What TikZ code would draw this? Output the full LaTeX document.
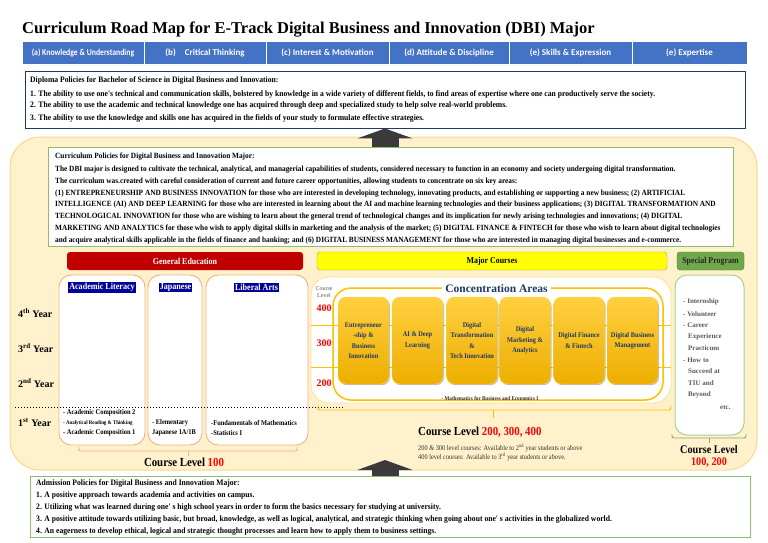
\documentclass[tikz,border=0pt]{standalone}
\usepackage{fontspec}
\usepackage{tikz}
\usetikzlibrary{arrows.meta, positioning, calc}
\setmainfont{Liberation Serif}
\newfontfamily\condfont[FakeStretch=0.88]{Liberation Serif}
\newfontfamily\polfont[FakeStretch=0.92]{Liberation Serif}
\newfontfamily\calibfont{Carlito}
\newfontfamily\calibcond[FakeStretch=0.86]{Carlito}
\definecolor{hdrblue}{HTML}{4472C4}
\definecolor{dipnavy}{HTML}{203864}
\definecolor{polgreen}{HTML}{8DBF6A}
\definecolor{basefill}{HTML}{FEF1CB}
\definecolor{baseedge}{HTML}{F8D88C}
\definecolor{genred}{HTML}{C00000}
\definecolor{majyellow}{HTML}{FFFF00}
\definecolor{majedge}{HTML}{A3A35A}
\definecolor{spgreen}{HTML}{70A84A}
\definecolor{spedge}{HTML}{4F7A33}
\definecolor{spbox}{HTML}{A9D18E}
\definecolor{colorange}{HTML}{F4B183}
\definecolor{labnavy}{HTML}{000099}
\definecolor{concgold}{HTML}{FFC000}
\definecolor{conctop}{HTML}{FFD040}
\definecolor{concbot}{HTML}{EDAE00}
\definecolor{concnavy}{HTML}{1F3864}
\definecolor{lvred}{HTML}{FF0000}
\definecolor{arrowgray}{HTML}{3A3A3A}
\definecolor{itemgray}{HTML}{595959}
\tikzset{
  polbox/.style={draw, fill=white, inner sep=0pt},
  polline/.style={anchor=west, inner sep=0pt, font=\polfont\bfseries\fontsize{8.3}{9}\selectfont},
  currline/.style={anchor=west, inner sep=0pt, font=\polfont\bfseries\fontsize{7.95}{9}\selectfont},
  hdrcell/.style={fill=hdrblue, draw=white, line width=0.8pt, text=white, font=\calibfont\bfseries\fontsize{9}{10}\selectfont, minimum height=23pt, inner sep=0pt},
  barbox/.style={rounded corners=3pt, minimum height=18pt, inner sep=0pt, font=\condfont\bfseries\fontsize{9}{10}\selectfont},
  colbox/.style={draw=colorange, fill=white, rounded corners=12pt, line width=0.9pt},
  collabel/.style={fill=labnavy, text=white, inner sep=1pt, font=\condfont\bfseries\fontsize{9.2}{10}\selectfont},
  yearlabel/.style={anchor=west, inner sep=0pt, font=\bfseries\fontsize{10}{11}\selectfont},
  itemtext/.style={anchor=west, inner sep=0pt, font=\condfont\bfseries\fontsize{7.3}{8}\selectfont},
  spitem/.style={anchor=west, inner sep=0pt, text=itemgray, font=\bfseries\fontsize{7}{8}\selectfont},
  concbox/.style={rounded corners=8pt, top color=conctop, bottom color=concbot, draw=concgold!70!white, minimum width=51pt, minimum height=87pt, inner sep=0pt, text=concnavy, align=center, font=\condfont\bfseries\fontsize{7.2}{10.4}\selectfont},
  concshade/.style={fill=black, opacity=0.25, rounded corners=8pt, minimum width=51pt, minimum height=87pt, inner sep=0pt},
  bigarrow/.style={draw=arrowgray, line width=27pt, -{Triangle[width=55pt, length=10pt]}, arrowgray},
  levelnum/.style={text=lvred, inner sep=0pt, font=\bfseries\fontsize{10}{11}\selectfont},
  lvtext/.style={inner sep=0pt, font=\condfont\bfseries\fontsize{12.3}{13}\selectfont},
  notetext/.style={anchor=west, inner sep=0pt, text=black!80, font=\condfont\fontsize{7.2}{8}\selectfont},
}
\begin{document}
\begin{tikzpicture}[x=1pt, y=-1pt]
\useasboundingbox (0,0) rectangle (768,543);
% Title and outcome bar
\node[anchor=west, inner sep=0pt, font=\bfseries\fontsize{16.5}{18}\selectfont] (title) at (22,30) {Curriculum Road Map for E-Track Digital Business and Innovation (DBI) Major};
\foreach \xa/\xb/\txt [count=\i] in {
  22/144/{\calibcond(a) Knowledge \& Understanding},
  144/266/{(b)\quad Critical Thinking},
  266/389/{(c) Interest \& Motivation},
  389/509/{(d) Attitude \& Discipline},
  509/632/{(e) Skills \& Expression},
  632/747/{(e) Expertise}
} {
  \node[hdrcell, minimum width=(\xb-\xa)*1pt] (cell\i) at ({(\xa+\xb)/2},52.5) {\txt};
}
% Background area
\node[draw=baseedge, fill=basefill, line width=1pt, rounded corners=30pt, minimum width=747pt, minimum height=333pt] (base) at (383.5,303.5) {};
% Diploma policies
\node[polbox, draw=dipnavy, line width=0.9pt, minimum width=720pt, minimum height=57pt] (dip) at (385,99.5) {};
\foreach \yy/\txt [count=\i] in {
  80/{Diploma Policies for Bachelor of Science in Digital Business and Innovation:},
  94/{1. The ability to use one's technical and communication skills, bolstered by knowledge in a wide variety of different fields, to find areas of expertise where one can productively serve the society.},
  106/{2. The ability to use the academic and technical knowledge one has acquired through deep and specialized study to help solve real-world problems.},
  118/{3. The ability to use the knowledge and skills one has acquired in the fields of your study to formulate effective strategies.}
} {
  \node[polline] (dip\i) at (30,\yy) {\txt};
}
% Curriculum policies
\node[polbox, draw=polgreen, line width=1pt, minimum width=685pt, minimum height=99pt] (curr) at (390.5,196.5) {};
\foreach \yy/\txt [count=\i] in {
  157/{Curriculum Policies for Digital Business and Innovation Major:},
  169.5/{The DBI major is designed to cultivate the technical, analytical, and managerial capabilities of students, considered necessary to function in an economy and society undergoing digital transformation.},
  181.3/{The curriculum was.created with careful consideration of current and future career opportunities, allowing students to concentrate on six key areas:},
  193.1/{(1) ENTREPRENEURSHIP AND BUSINESS INNOVATION for those who are interested in developing technology, innovating products, and establishing or supporting a new business; (2) ARTIFICIAL},
  204.9/{INTELLIGENCE (AI) AND DEEP LEARNING for those who are interested in learning about the AI and machine learning technologies and their business applications; (3) DIGITAL TRANSFORMATION AND},
  216.7/{TECHNOLOGICAL INNOVATION for those who are wishing to learn about the general trend of technological changes and its implication for newly arising technologies and innovations; (4) DIGITAL},
  228.5/{MARKETING AND ANALYTICS for those who wish to apply digital skills in marketing and the analysis of the market; (5) DIGITAL FINANCE \& FINTECH for those who wish to learn about digital technologies},
  240.3/{and acquire analytical skills applicable in the fields of finance and banking; and (6) DIGITAL BUSINESS MANAGEMENT for those who are interested in managing digital businesses and e-commerce.}
} {
  \node[currline] (curr\i) at (55,\yy) {\txt};
}
% Admission policies
\node[polbox, draw=polgreen, line width=1pt, minimum width=720pt, minimum height=61pt] (adm) at (390,506.5) {};
\foreach \yy/\txt [count=\i] in {
  483/{Admission Policies for Digital Business and Innovation Major:},
  495/{1. A positive approach towards academia and activities on campus.},
  507.5/{2. Utilizing what was learned during one' s high school years in order to form the basics necessary for studying at university.},
  520/{3. A positive attitude towards utilizing basic, but broad, knowledge, as well as logical, analytical, and strategic thinking when going about one' s activities in the globalized world.},
  532/{4. An eagerness to develop ethical, logical and strategic thought processes and learn how to apply them to business settings.}
} {
  \node[polline] (adm\i) at (36,\yy) {\txt};
}
% Arrows
\coordinate (tipB) at (385,460);
\draw[bigarrow] (dip.south |- curr.north) -- (dip.south);
\draw[bigarrow] (tipB |- adm.north) -- (tipB);
% Bars
\node[barbox, fill=genred, text=white, minimum width=236pt] (gened) at (185,261) {General Education};
\node[barbox, fill=majyellow, draw=majedge, minimum width=350pt] (major) at (492,261) {Major Courses};
\node[barbox, fill=spgreen, draw=spedge, text=black!85, minimum width=67pt] (special) at (710.5,261) {Special Program};
% General education columns
\node[colbox, minimum width=86pt, minimum height=170pt] (acad) at (102,360) {};
\node[colbox, minimum width=54pt, minimum height=170pt] (jpn) at (175,360) {};
\node[colbox, minimum width=102pt, minimum height=170pt] (lib) at (257,360) {};
\node[collabel] (acadlab) at (102,287.5) {Academic Literacy};
\node[collabel] (jpnlab) at (175.5,287.5) {Japanese};
\node[collabel] (liblab) at (256.5,287.5) {Liberal Arts};
% Years
\node[yearlabel] (y4) at (18,313) {4\textsuperscript{th} Year};
\node[yearlabel] (y3) at (18,348) {3\textsuperscript{rd} Year};
\node[yearlabel] (y2) at (18,383) {2\textsuperscript{nd} Year};
\node[yearlabel] (y1) at (18,422.5) {1\textsuperscript{st} Year};
\draw[dotted, line width=1pt] (15,407) -- (343,407);
% First year courses
\node[itemtext] (ac2) at (63,413) {- Academic Composition 2};
\node[itemtext, font=\condfont\bfseries\fontsize{5.6}{6}\selectfont] (arth) at (63,423) {- Analytical Reading \& Thinking};
\node[itemtext] (ac1) at (63,433) {- Academic Composition 1};
\node[itemtext] (jp1) at (152,423) {- Elementary};
\node[itemtext] (jp2) at (152,433) {Japanese 1A/1B};
\node[itemtext] (lb1) at (211,423) {-Fundamentals of Mathematics};
\node[itemtext] (lb2) at (211,433) {-Statistics I};
\draw[colorange, line width=0.9pt, rounded corners=2pt] (79,447) -- (79,451) -- (297,451) -- (297,447);
\draw[colorange, line width=0.9pt] (188,451) -- (188,456);
\node[lvtext] (lv100) at (184,462) {Course Level \textcolor{lvred}{100}};
% Major courses
\node[draw=concgold!45, fill=white, rounded corners=18pt, line width=0.8pt, minimum width=360pt, minimum height=126pt] (majout) at (491,340) {};
\node[draw=concgold, rounded corners=18pt, line width=1.5pt, minimum width=330pt, minimum height=112pt] (majin) at (498,344) {};
\draw[concgold, line width=0.8pt] (311,325) -- (671,325);
\draw[concgold, line width=0.8pt] (311,367) -- (671,367);
\node[fill=white, inner sep=3pt, text=concnavy, font=\bfseries\fontsize{11.5}{13}\selectfont] (conctitle) at (496.5,289) {Concentration Areas};
\node[align=center, text=itemgray, inner sep=0pt, font=\fontsize{6}{7}\selectfont] (clv) at (324,292) {Course\\Level};
\node[levelnum] (n400) at (324,308) {400};
\node[levelnum] (n300) at (324,343) {300};
\node[levelnum] (n200) at (324,383) {200};
% Concentration areas
\node[concshade] (shade1) at (364.5,341.7) {};
\node[concbox] (conc1) at (363.5,340.5) {Entrepreneur\\-ship \&\\Business\\Innovation};
\node[concshade] (shade2) at (418.5,341.7) {};
\node[concbox] (conc2) at (417.5,340.5) {AI \& Deep\\Learning};
\node[concshade] (shade3) at (473,341.7) {};
\node[concbox] (conc3) at (472,340.5) {Digital\\Transformation\\\&\\Tech Innovation};
\node[concshade] (shade4) at (526,341.7) {};
\node[concbox] (conc4) at (525,340.5) {Digital\\Marketing \&\\Analytics};
\node[concshade] (shade5) at (580,341.7) {};
\node[concbox] (conc5) at (579,340.5) {Digital Finance\\\& Fintech};
\node[concshade] (shade6) at (633.5,341.7) {};
\node[concbox] (conc6) at (632.5,340.5) {Digital Business\\Management};
\node[itemtext, anchor=center, text=black!80, font=\condfont\bfseries\fontsize{5.8}{7}\selectfont] (math) at (490,398) {- Mathematics for Business and Economics I};
\draw[concgold, line width=0.9pt, rounded corners=2pt] (318,405) -- (318,410) -- (671,410) -- (671,405);
\draw[concgold, line width=0.9pt] (493,410) -- (493,418);
\node[lvtext, anchor=west] (lv234) at (418,432) {Course Level \textcolor{lvred}{200, 300, 400}};
\node[notetext] (note1) at (418,448) {200 \& 300 level courses: Available to 2\textsuperscript{nd} year students or above};
\node[notetext] (note2) at (418,457) {400 level courses: Available to 3\textsuperscript{rd} year students or above.};
% Special program
\node[draw=spbox, fill=white, rounded corners=12pt, line width=1pt, minimum width=69pt, minimum height=160pt] (spec) at (709.5,355) {};
\foreach \sx/\yy/\txt [count=\i] in {
  683/302/{- Internship},
  683/314/{- Volunteer},
  683/325.5/{- Career},
  688/337/{Experience},
  688/348.5/{Practicum},
  683/360/{- How to},
  688/371.5/{Succeed at},
  688/383/{TIU and},
  688/394.5/{Beyond},
  720/408/{etc.}
} {
  \node[spitem] (sp\i) at (\sx,\yy) {\txt};
}
\draw[spbox!80!black, line width=0.9pt, rounded corners=2pt] (672,434) -- (672,438) -- (746,438) -- (746,434);
\draw[spbox!80!black, line width=0.9pt] (709,438) -- (709,443);
\node[lvtext, font=\condfont\bfseries\fontsize{11.6}{12}\selectfont] (lvsp) at (709,450) {Course Level};
\node[lvtext, text=lvred, font=\condfont\bfseries\fontsize{11.6}{12}\selectfont] (lvsp2) at (709,462.5) {100, 200};
\end{tikzpicture}
\end{document}
